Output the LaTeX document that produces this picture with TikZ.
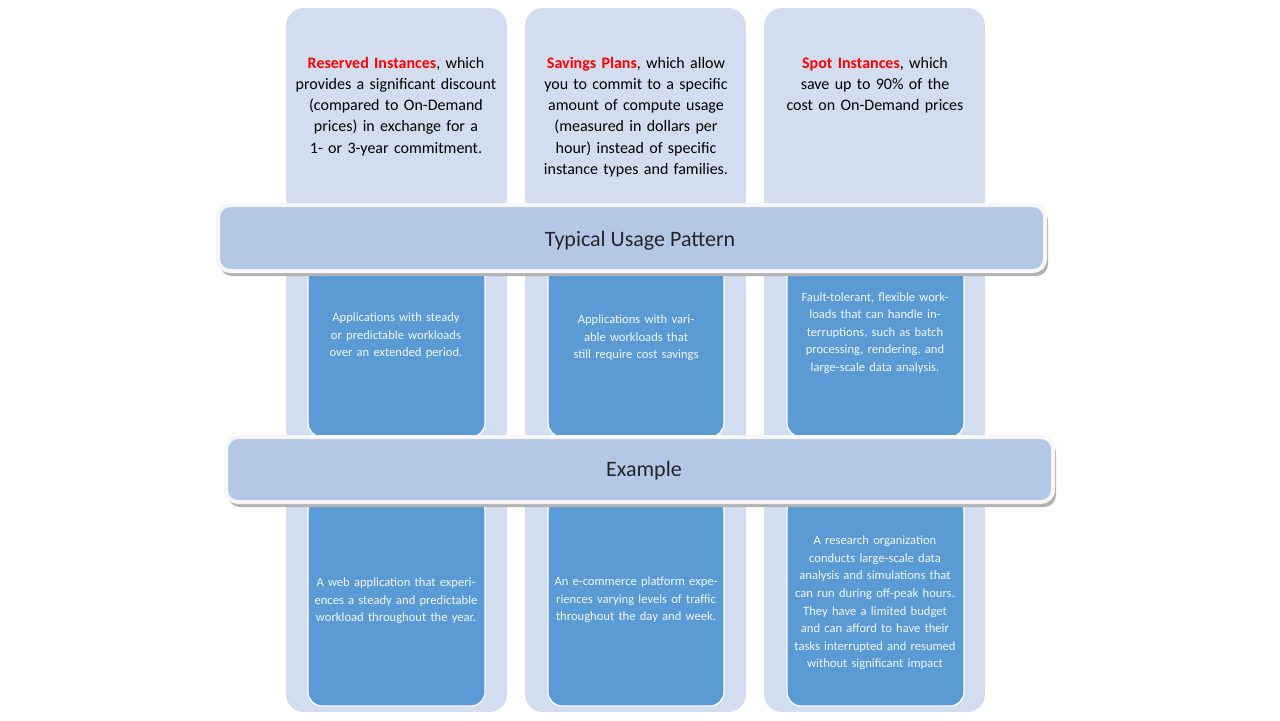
\documentclass[tikz,border=0pt]{standalone}
\usepackage{fontspec}
\setmainfont{Carlito}
\usetikzlibrary{positioning}
\definecolor{colbg}{HTML}{D2DDEF}
\definecolor{barbg}{HTML}{B4C7E7}
\definecolor{cellbg}{HTML}{5B9BD5}
\definecolor{hilite}{HTML}{FF0000}
\tikzset{
  column/.style={fill=colbg, rounded corners=9pt},
  cell/.style={fill=cellbg, draw=white, line width=0.6pt, rounded corners=7pt},
  bar/.style={fill=barbg, draw=white!94!gray, line width=2pt, rounded corners=6pt},
  barshadow/.style={fill=gray!60, rounded corners=6pt},
  toptext/.style={anchor=north, align=center, text width=102pt, font=\fontsize{8}{10.6}\selectfont},
  celltext/.style={align=center, text width=86pt, text=white!92!cellbg, font=\fontsize{6.3}{8.8}\selectfont},
  bartext/.style={font=\fontsize{11}{13}\selectfont, text=black!85}
}
\newcommand{\hl}[1]{\textcolor{hilite}{\textbf{#1}}}
\begin{document}
\begin{tikzpicture}[x=0.5pt, y=-0.5pt]
    \useasboundingbox (0,0) rectangle (1280,720);
    % Columns
    \foreach \xl/\xr in {286/507, 525/746, 764/985}
        \fill [column] (\xl,8) rectangle (\xr,712);
    % Cells
    \foreach \xl/\xr in {308/485, 548/724, 787/964} {
        \draw [cell] (\xl,262) rectangle (\xr,437);
        \draw [cell] (\xl,497) rectangle (\xr,706);
    }
    % Bars
    \fill [barshadow] (220,209) rectangle (1048,276);
    \draw [bar] (218,205) rectangle (1045,271);
    \fill [barshadow] (228,441) rectangle (1056,507);
    \draw [bar] (226,437) rectangle (1053,502);
    \node [bartext] (usage) at (640,241) {Typical Usage Pattern};
    \node [bartext] (example) at (644,471) {Example};
    % Top texts
    \node [toptext] (reserved) at (396,50) {\hl{Reserved Instances}, which provides a significant discount (compared to On-Demand prices) in exchange for a 1- or 3-year commitment.};
    \node [toptext] (savings) at (636,50) {\hl{Savings Plans}, which allow you to commit to a specific amount of compute usage (measured in dollars per hour) instead of specific instance types and families.};
    \node [toptext] (spot) at (875,50) {\hl{Spot Instances}, which save up to 90\% of the cost on On-Demand prices};
    % Usage cells
    \node [celltext] (useres) at (396,336) {Applications with steady or predictable workloads over an extended period.};
    \node [celltext] (usesav) at (636,338) {Applications with variable workloads that still require cost savings};
    \node [celltext] (usespot) at (875,333) {Fault-tolerant, flexible workloads that can handle interruptions, such as batch processing, rendering, and large-scale data analysis.};
    % Example cells
    \node [celltext] (exres) at (396,601) {A web application that experiences a steady and predictable workload throughout the year.};
    \node [celltext] (exsav) at (636,600) {An e-commerce platform experiences varying levels of traffic throughout the day and week.};
    \node [celltext] (exspot) at (875,603) {A research organization conducts large-scale data analysis and simulations that can run during off-peak hours. They have a limited budget and can afford to have their tasks interrupted and resumed without significant impact};
\end{tikzpicture}
\end{document}
